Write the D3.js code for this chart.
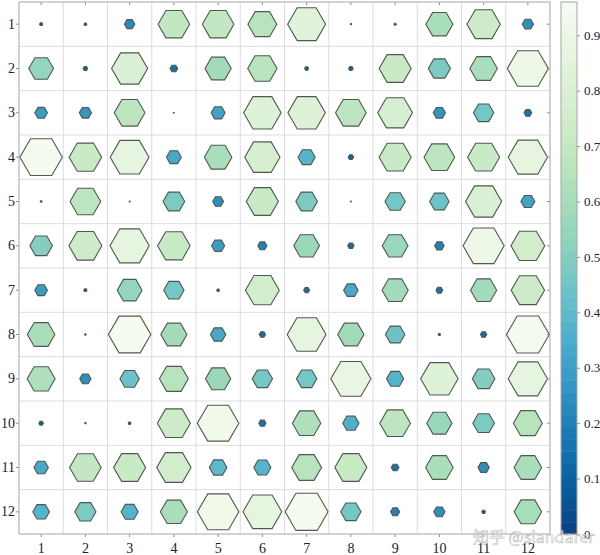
<!doctype html>
<html lang="">
<head>
<meta charset="utf-8">
<title>Hexagon heatmap</title>
<style>
    body { margin: 0; background: #fff; }
    text { font-family: "Liberation Serif", "Times New Roman", serif; fill: #222; }
    .grid line { stroke: #dcdcdc; stroke-width: 1px; }
    .hex { stroke: #4f5a4f; stroke-width: 1.1px; }
    .frame { fill: none; stroke: #a6a6a6; stroke-width: 1px; }
    .tick line { stroke: #8c8c8c; }
    .mark { font-family: "Noto Sans CJK SC", "Noto Sans", sans-serif; fill: #fff; fill-opacity: 0.75; stroke: #9a9a9a; stroke-width: 0.6px; stroke-opacity: 0.7; }
</style>
</head>
<body>
<svg id="plot" width="600" height="555"></svg>

<script src="https://cdn.jsdelivr.net/npm/d3@7"></script>
<script>
// tick labels
const colLabels = ["1","2","3","4","5","6","7","8","9","10","11","12"];
const rowLabels = ["1","2","3","4","5","6","7","8","9","10","11","12"];
const barTicks = [0, 0.1, 0.2, 0.3, 0.4, 0.5, 0.6, 0.7, 0.8, 0.9];

// values, one array per row
const row1  = [0.07, 0.06, 0.23, 0.70, 0.70, 0.64, 0.84, 0.03, 0.05, 0.60, 0.74, 0.25];
const row2  = [0.55, 0.10, 0.80, 0.17, 0.58, 0.65, 0.09, 0.10, 0.71, 0.49, 0.61, 0.91];
const row3  = [0.28, 0.27, 0.68, 0.02, 0.31, 0.83, 0.83, 0.68, 0.77, 0.27, 0.45, 0.17];
const row4  = [0.94, 0.72, 0.86, 0.33, 0.61, 0.78, 0.38, 0.12, 0.71, 0.68, 0.71, 0.87];
const row5  = [0.04, 0.68, 0.02, 0.48, 0.24, 0.71, 0.48, 0.02, 0.45, 0.43, 0.80, 0.31];
const row6  = [0.50, 0.73, 0.87, 0.72, 0.29, 0.20, 0.57, 0.14, 0.57, 0.21, 0.91, 0.75];
const row7  = [0.28, 0.07, 0.55, 0.45, 0.06, 0.75, 0.13, 0.32, 0.58, 0.15, 0.58, 0.74];
const row8  = [0.61, 0.03, 0.94, 0.58, 0.34, 0.14, 0.86, 0.58, 0.43, 0.05, 0.14, 0.95];
const row9  = [0.62, 0.25, 0.43, 0.64, 0.56, 0.45, 0.45, 0.89, 0.38, 0.83, 0.50, 0.87];
const row10 = [0.10, 0.03, 0.06, 0.73, 0.92, 0.16, 0.63, 0.36, 0.68, 0.56, 0.48, 0.64];
const row11 = [0.32, 0.70, 0.71, 0.76, 0.39, 0.38, 0.66, 0.71, 0.17, 0.61, 0.25, 0.61];
const row12 = [0.37, 0.47, 0.38, 0.60, 0.92, 0.86, 0.95, 0.45, 0.20, 0.25, 0.08, 0.61];

const rows = [row1, row2, row3, row4, row5, row6, row7, row8, row9, row10, row11, row12];
const vmax = 0.96;
const nLevels = 45;

let svg = d3.select("#plot"),
    margin = {top: 2, left: 19},
    width = 531,
    height = 532,
    g = svg.append("g").attr("transform", "translate(" + margin.left + "," + margin.top + ")");

let x = d3.scaleBand().domain(colLabels).range([0, width]);
let y = d3.scaleBand().domain(rowLabels).range([0, height]);
let r = d3.scaleLinear().domain([0, 1]).range([0, x.bandwidth() * 0.51]);

// discrete reversed GnBu map
let level = d3.scaleQuantize().domain([0, vmax]).range(d3.range(nLevels));
function colorOf(v) {
    let k = level(Math.min(v, vmax - 1e-9));
    return d3.interpolateGnBu(1 - (k + 0.5) / nLevels);
}

// grid
let grid = g.append("g").attr("class", "grid");
grid.selectAll(".gx")
    .data(colLabels.slice(1))
    .enter().append("line")
    .attr("x1", d => x(d)).attr("x2", d => x(d))
    .attr("y1", 0).attr("y2", height);
grid.selectAll(".gy")
    .data(rowLabels.slice(1))
    .enter().append("line")
    .attr("y1", d => y(d)).attr("y2", d => y(d))
    .attr("x1", 0).attr("x2", width);

// hexagons
function hexPath(rad) {
    let pts = d3.range(6).map(i => {
        let a = i * Math.PI / 3;
        return [rad * Math.cos(a), rad * Math.sin(a)];
    });
    return "M" + pts.map(p => p.join(",")).join("L") + "Z";
}

let cells = [];
rows.forEach((vals, i) => {
    vals.forEach((v, j) => cells.push({row: rowLabels[i], col: colLabels[j], v: v}));
});

g.selectAll(".hex")
    .data(cells)
    .enter().append("path")
    .attr("class", "hex")
    .attr("transform", d => "translate(" + (x(d.col) + x.bandwidth() / 2) + "," + (y(d.row) + y.bandwidth() / 2) + ")")
    .attr("d", d => hexPath(r(d.v)))
    .attr("fill", d => colorOf(d.v));

// axes
g.append("g")
    .attr("class", "axis")
    .attr("transform", "translate(0," + height + ")")
    .call(d3.axisBottom(x).tickSize(3).tickPadding(6));
g.append("g")
    .attr("class", "axis")
    .call(d3.axisLeft(y).tickSize(3).tickPadding(1));
g.append("g").attr("transform", "translate(" + width + ",0)")
    .call(d3.axisRight(y).tickSize(-3).tickFormat(""));
g.append("g")
    .call(d3.axisTop(x).tickSize(-3).tickFormat(""));
g.selectAll(".domain").remove();
g.selectAll(".tick text").style("font-size", "14px").style("font-family", "'Liberation Serif', serif");

g.append("rect").attr("class", "frame")
    .attr("x", 0).attr("y", 0).attr("width", width).attr("height", height);

// colorbar
const cbX = 561, cbW = 16;
let cb = svg.append("g").attr("transform", "translate(" + cbX + "," + margin.top + ")");
let cy = d3.scaleLinear().domain([0, vmax]).range([height, 0]);
let step = vmax / nLevels;
cb.selectAll(".lvl")
    .data(d3.range(nLevels))
    .enter().append("rect")
    .attr("x", 0)
    .attr("width", cbW)
    .attr("y", k => cy((k + 1) * step))
    .attr("height", k => cy(k * step) - cy((k + 1) * step) + 0.5)
    .attr("fill", k => d3.interpolateGnBu(1 - (k + 0.5) / nLevels));
cb.append("g")
    .attr("transform", "translate(" + cbW + ",0)")
    .call(d3.axisRight(cy).tickValues(barTicks).tickSize(3).tickPadding(4).tickFormat(d => d === 0 ? "0" : d3.format(".1f")(d)))
    .call(a => a.select(".domain").remove())
    .selectAll("text").style("font-size", "13px").style("font-family", "'Liberation Serif', serif");
cb.append("rect").attr("class", "frame")
    .attr("x", 0).attr("y", 0).attr("width", cbW).attr("height", height);

// watermark
svg.append("text")
    .attr("class", "mark")
    .attr("x", 473).attr("y", 543)
    .style("font-size", "16px")
    .text("知乎 @slandarer");
</script>
</body>
</html>
